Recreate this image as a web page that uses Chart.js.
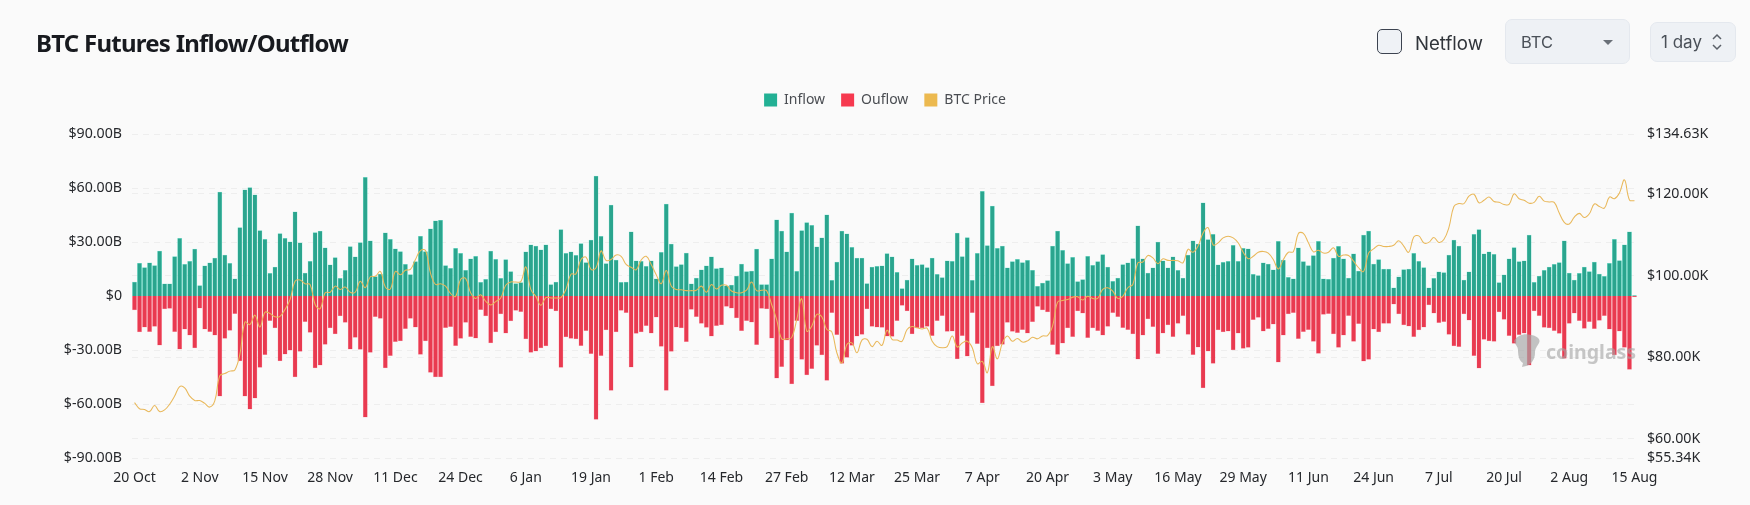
<!DOCTYPE html>
<html>
<head>
<meta charset="utf-8">
<script src="https://cdn.jsdelivr.net/npm/chart.js@4/dist/chart.umd.min.js"></script>
<style>
html,body{margin:0;padding:0;width:1750px;height:505px;background:#fafafa;overflow:hidden;font-family:"Inter","Noto Sans",sans-serif}
canvas{position:absolute;left:0;top:0}
.t{position:absolute;white-space:nowrap}
#title{left:36px;top:26px;font:700 24px/34px "Noto Sans",sans-serif;color:#181a1f;letter-spacing:-.75px}
#cb{position:absolute;left:1377px;top:29px;width:23px;height:23px;border:1.3px solid #3c4350;border-radius:5px;background:#eff2f6}
#nf{left:1415px;top:31px;font:400 18.6px/24px "Inter",sans-serif;color:#30343a}
.box{position:absolute;background:#eef1f5;border:1px solid #e4e8ee;border-radius:7px;box-sizing:border-box}
#sel{left:1505px;top:19px;width:125px;height:45px}
#btc{left:1521px;top:30px;font:400 16.5px/24px "Inter",sans-serif;color:#4a5058}
#car{position:absolute;left:1603px;top:40px;width:0;height:0;border-left:5px solid transparent;border-right:5px solid transparent;border-top:5px solid #6a7078}
#day{left:1650px;top:22px;width:86px;height:40px}
#dayt{left:1661px;top:30px;font:400 17px/24px "Inter",sans-serif;color:#4a5058}
#chev{position:absolute;left:1711px;top:32px}
#wm{position:absolute;left:1511px;top:333px;opacity:.95}
#wmt{left:1546px;top:336px;font:700 19.5px/32px "Noto Sans",sans-serif;color:rgba(165,165,165,.62)}
</style>
</head>
<body>
<canvas id="c" width="1750" height="505"></canvas>
<div class="t" id="title">BTC Futures Inflow/Outflow</div>
<div id="cb"></div>
<div class="t" id="nf">Netflow</div>
<div class="box" id="sel"></div>
<div class="t" id="btc">BTC</div>
<div id="car"></div>
<div class="box" id="day"></div>
<div class="t" id="dayt">1 day</div>
<svg id="chev" width="12" height="20" viewBox="0 0 12 20"><path d="M2 7 L6 3 L10 7 M2 13 L6 17 L10 13" fill="none" stroke="#5a6068" stroke-width="1.5"/></svg>
<svg id="wm" width="30" height="36" viewBox="0 0 30 36"><path d="M3 8 C6 2 14 0 20 2 C26 3 30 6 28 10 C26 14 24 15 24 20 C24 26 20 32 15 33 L11 34 L12 30 C8 28 7 22 7 17 C7 13 4 12 3 8 Z" fill="rgba(165,165,165,.7)"/></svg>
<div class="t" id="wmt">coinglass</div>
<script>
const tickLabels=['20 Oct','2 Nov','15 Nov','28 Nov','11 Dec','24 Dec','6 Jan','19 Jan','1 Feb','14 Feb','27 Feb','12 Mar','25 Mar','7 Apr','20 Apr','3 May','16 May','29 May','11 Jun','24 Jun','7 Jul','20 Jul','2 Aug','15 Aug'];
const inflow=[
7.8,18.2,15.8,18.4,16.9,24.9,6.7,6.7,21.9,32.1,
17.6,19.3,26.0,5.8,16.7,18.4,21.1,57.7,22.8,18.2,
9.5,38.0,59.0,60.3,56.2,36.4,31.5,12.6,16.0,34.7,
32.1,30.1,46.7,29.5,12.8,19.3,35.2,36.0,26.7,17.3,
21.3,9.8,14.3,27.5,21.7,29.7,65.9,30.6,10.8,12.2,
35.1,31.5,26.2,24.7,17.6,11.9,19.1,33.2,24.7,37.3,
41.7,42.1,16.9,15.4,26.5,23.7,14.3,20.6,22.1,7.6,
9.3,25.0,20.4,9.8,20.2,13.5,6.9,7.4,24.5,28.4,
27.8,25.6,28.4,6.3,7.8,36.9,23.7,24.5,22.6,29.1,
18.6,31.0,66.6,33.2,18.0,50.5,20.0,7.6,7.8,35.6,
19.5,19.3,16.5,19.5,9.5,24.3,51.0,28.8,16.3,17.4,
23.9,6.7,10.0,14.5,16.7,21.7,15.2,15.6,5.6,6.1,
11.1,17.8,13.5,13.9,26.0,6.3,6.3,20.6,42.3,36.0,
24.5,46.0,13.7,36.4,40.8,39.3,27.3,32.3,45.1,8.7,
18.9,36.0,34.5,27.1,21.1,21.0,6.9,16.1,16.5,16.7,
23.6,21.7,13.2,4.1,8.9,20.6,17.1,17.4,15.8,21.0,
12.1,10.2,19.5,19.3,34.9,21.9,32.5,8.7,23.7,58.2,
28.0,49.9,26.5,27.8,15.6,19.1,20.4,18.6,19.8,14.3,
5.4,7.2,8.5,27.8,36.0,25.4,18.0,21.5,8.0,9.1,
22.1,17.1,19.1,23.0,16.1,8.2,10.0,17.4,18.4,20.8,
39.0,20.6,12.8,15.6,29.9,19.5,15.6,21.7,14.3,10.0,
22.8,30.6,28.8,51.8,31.3,34.3,17.3,18.7,19.3,28.2,
19.3,26.5,26.2,12.1,11.3,18.4,17.8,14.5,30.4,20.0,
10.4,9.5,26.7,19.1,16.9,22.4,30.4,9.5,9.3,21.1,
27.6,20.6,10.0,23.4,13.9,33.9,36.0,17.8,20.2,15.0,
15.0,4.5,10.6,14.7,15.0,23.7,19.3,15.8,4.5,9.8,
13.4,13.0,22.8,31.0,27.8,8.9,13.4,34.3,36.9,23.4,
24.5,23.2,7.4,11.7,20.6,26.9,19.1,19.5,33.9,7.6,
11.1,14.3,16.0,17.6,18.6,30.6,12.8,8.9,12.6,16.0,
13.5,18.9,12.2,10.9,18.2,31.5,19.7,28.4,35.6,0.3];
const outflow=[
-7.8,-20.0,-17.3,-19.8,-16.9,-27.3,-7.2,-6.9,-19.8,-29.5,
-18.4,-21.7,-28.8,-6.7,-18.4,-19.8,-21.7,-55.7,-23.6,-19.1,
-9.8,-36.0,-55.7,-62.9,-56.8,-39.7,-32.6,-13.7,-17.8,-36.0,
-32.3,-30.1,-44.9,-30.8,-14.3,-20.2,-39.9,-38.4,-26.9,-17.8,
-21.0,-11.1,-14.7,-29.5,-23.0,-29.7,-67.3,-31.3,-11.5,-12.4,
-39.9,-33.2,-25.4,-25.0,-18.2,-12.4,-17.3,-32.5,-24.9,-42.5,
-44.9,-44.9,-17.6,-17.1,-27.6,-23.6,-14.7,-22.6,-23.4,-7.6,
-11.1,-26.0,-20.0,-10.0,-20.6,-13.9,-8.0,-8.7,-23.9,-31.3,
-30.6,-28.9,-27.8,-7.2,-8.3,-39.7,-22.8,-23.6,-23.9,-27.6,
-19.3,-32.1,-68.5,-33.2,-18.9,-52.5,-20.0,-8.0,-9.3,-39.5,
-20.8,-20.0,-16.5,-20.6,-11.7,-28.0,-52.5,-30.8,-17.3,-17.8,
-25.4,-7.4,-11.5,-15.2,-17.4,-22.3,-16.5,-16.1,-5.8,-6.7,
-12.2,-19.3,-13.7,-14.5,-27.1,-6.9,-7.2,-23.4,-45.6,-39.3,
-24.5,-48.8,-13.7,-35.2,-43.8,-40.4,-27.5,-32.8,-46.9,-9.3,
-21.5,-37.5,-34.1,-27.5,-22.3,-21.3,-7.2,-16.9,-17.3,-17.4,
-22.3,-22.4,-13.7,-5.2,-8.3,-21.0,-17.8,-17.8,-16.9,-22.1,
-13.7,-10.9,-19.7,-19.5,-34.9,-22.1,-33.4,-9.3,-26.5,-59.4,
-28.9,-49.9,-27.8,-26.9,-14.7,-19.7,-20.4,-18.7,-20.6,-14.3,
-5.8,-7.8,-8.9,-27.1,-32.5,-26.2,-17.8,-22.6,-8.3,-9.6,
-23.2,-17.8,-19.3,-21.7,-16.9,-9.3,-11.5,-17.6,-18.7,-21.1,
-35.1,-21.7,-12.8,-17.1,-32.1,-20.6,-16.1,-22.6,-15.2,-10.9,
-21.3,-32.6,-28.4,-51.0,-30.6,-37.5,-18.9,-20.0,-19.5,-29.9,
-20.6,-29.1,-28.6,-13.2,-11.9,-19.5,-18.2,-15.6,-36.7,-21.7,
-10.0,-9.3,-23.7,-19.8,-18.7,-25.2,-31.9,-10.2,-9.8,-21.1,
-28.6,-21.7,-10.9,-25.2,-15.4,-36.2,-35.2,-18.4,-20.0,-15.2,
-15.2,-4.5,-10.0,-16.1,-16.7,-22.6,-18.9,-17.3,-5.0,-9.6,
-14.8,-14.3,-21.3,-27.8,-28.2,-10.0,-13.4,-33.2,-40.1,-24.1,
-24.9,-25.2,-8.9,-13.0,-22.1,-26.3,-21.5,-20.6,-38.4,-8.3,
-10.9,-17.4,-17.8,-19.3,-20.8,-34.7,-15.2,-9.6,-13.7,-18.0,
-14.3,-18.2,-13.5,-10.9,-18.4,-32.8,-19.5,-28.6,-40.8,-0.5];
const btcPrice=[
68.9,67.4,67.2,66.7,68.2,66.7,67.1,68.5,70.5,72.8,
72.5,70.5,69.4,69.4,68.7,67.8,69.3,75.5,76.0,76.6,
76.9,80.7,88.6,88.0,90.3,87.4,91.0,90.7,89.9,90.0,
91.7,94.1,98.6,98.9,98.0,97.8,92.9,91.9,95.8,95.9,
97.4,96.6,97.2,95.9,95.9,98.6,97.0,99.7,99.8,101.0,
97.2,96.7,101.0,100.2,101.3,101.5,103.9,106.1,106.1,100.6,
97.8,98.0,97.4,95.6,94.9,99.0,99.3,95.8,94.4,95.3,
93.7,92.8,93.6,94.5,97.6,98.4,98.4,98.5,102.1,96.6,
94.9,92.7,94.6,94.5,94.5,94.6,96.6,100.3,100.4,103.9,
104.5,101.5,101.9,106.0,103.7,103.9,105.0,104.7,102.7,102.0,
101.4,103.8,104.7,102.7,100.2,98.0,101.2,97.4,96.6,96.5,
96.3,96.3,96.4,97.4,95.9,97.8,96.7,97.6,97.6,96.2,
95.8,95.8,96.4,98.4,96.3,96.4,96.3,92.9,89.2,84.5,
84.5,84.8,89.2,94.3,86.4,87.6,90.5,89.9,86.8,86.2,
81.1,78.6,83.1,83.5,81.1,84.2,84.4,82.6,83.9,82.9,
86.6,84.4,84.2,83.9,86.8,87.5,87.2,86.9,87.1,83.9,
82.6,82.3,82.6,85.2,82.5,83.5,83.9,82.3,78.4,79.0,
76.2,82.6,79.6,83.5,85.2,83.9,84.6,83.7,84.0,84.9,
84.5,85.2,85.3,87.6,93.5,93.9,94.1,94.7,94.8,94.0,
94.9,94.4,94.4,96.6,97.0,96.2,94.4,94.9,97.0,97.8,
103.1,103.3,104.9,104.3,102.9,104.1,103.7,103.7,103.6,103.1,
106.4,105.7,107.2,110.4,111.7,107.5,108.0,109.2,109.6,109.2,
108.0,105.7,104.1,104.7,105.7,105.9,105.5,103.9,101.6,103.9,
105.7,105.8,110.3,110.3,108.0,105.8,106.2,105.5,105.7,106.8,
104.7,105.0,104.9,103.5,101.9,101.0,105.5,106.5,107.4,107.1,
107.1,107.4,108.5,107.2,105.7,109.4,109.7,108.0,108.1,109.3,
108.1,108.8,111.7,116.9,117.6,117.6,119.4,119.9,117.8,118.4,
119.2,118.1,117.9,117.4,117.4,120.0,118.8,118.4,117.7,117.9,
119.4,118.2,118.0,117.9,115.3,113.0,112.6,114.3,115.2,114.2,
115.1,117.5,116.9,116.5,119.2,118.8,120.2,123.4,118.5,118.3];
const priceTicks=[55.34,60,80,100,120,134.63];
const categories=inflow.map((_,i)=>i%13===0?tickLabels[i/13]:'');

const FONT='"Noto Sans",sans-serif';
const legendFit={id:'legendFit',beforeInit(chart){
  const f=chart.legend.fit;
  chart.legend.fit=function(){f.call(this);this.height=57;};
}};
new Chart(document.getElementById('c'),{
  data:{labels:categories,datasets:[
    {type:'line',label:'BTC Price',data:btcPrice,yAxisID:'y1',order:0,borderColor:'#e9b85a',backgroundColor:'#e9b850',borderWidth:1.05,pointRadius:0,tension:.4,fill:false},
    {type:'bar',label:'Inflow',data:inflow,yAxisID:'y',order:1,backgroundColor:'#2aa58e',borderColor:'rgba(110,225,205,.75)',borderWidth:{left:.5,right:.5,top:.5,bottom:0},barThickness:4.2,borderSkipped:false},
    {type:'bar',label:'Ouflow',data:outflow,yAxisID:'y',order:1,backgroundColor:'#e93a50',borderColor:'rgba(250,150,165,.75)',borderWidth:{left:.5,right:.5,top:0,bottom:.5},barThickness:4.2,borderSkipped:false}
  ]},
  plugins:[legendFit],
  options:{
    responsive:false,animation:false,devicePixelRatio:1,
    layout:{padding:{left:30,right:10,top:77,bottom:12}},
    plugins:{
      legend:{position:'top',labels:{
        boxWidth:13,boxHeight:13,padding:16,color:'#4a4d52',font:{family:FONT,size:14},
        sort:(a,b)=>['Inflow','Ouflow','BTC Price'].indexOf(a.text)-['Inflow','Ouflow','BTC Price'].indexOf(b.text),
        generateLabels(chart){
          const fills={'Inflow':'#22b094','Ouflow':'#f6394f','BTC Price':'#ecb94f'};
          return chart.data.datasets.map((d,i)=>({text:d.label,fillStyle:fills[d.label],strokeStyle:fills[d.label],lineWidth:0,datasetIndex:i,fontColor:'#4a4d52'}));
        }
      }},
      tooltip:{enabled:false}
    },
    scales:{
      x:{stacked:true,offset:true,grid:{display:false},border:{display:false},
        ticks:{autoSkip:false,maxRotation:0,minRotation:0,padding:4,color:'#26282c',font:{family:FONT,size:14}},
        afterFit(s){s.height=35;}},
      y:{stacked:true,position:'left',min:-90,max:90,border:{display:false,dash:[6,5]},
        grid:{color:'#eeeeee',drawTicks:false,lineWidth:c=>c.tick&&c.tick.value===0?0:1},
        ticks:{stepSize:30,padding:10,autoSkip:false,color:'#26282c',font:{family:FONT,size:14.2},
          callback:v=>v===0?'$0':'$'+v.toFixed(2)+'B'},
        afterFit(s){s.width=102;}},
      y1:{position:'right',min:55.34,max:134.63,border:{display:false,dash:[6,5]},
        grid:{color:'#eeeeee',drawTicks:false,lineWidth:1},
        afterBuildTicks(s){s.ticks=priceTicks.map(v=>({value:v}));},
        ticks:{padding:10,autoSkip:false,color:'#26282c',font:{family:FONT,size:14.2},
          callback:v=>'$'+v.toFixed(2)+'K'},
        afterFit(s){s.width=103;}}
    }
  }
});
</script>
</body>
</html>
